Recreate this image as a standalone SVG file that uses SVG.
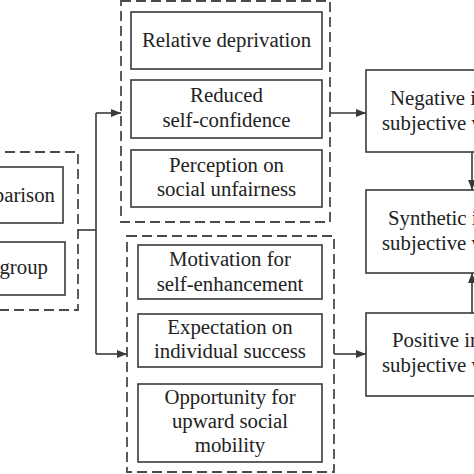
<svg xmlns="http://www.w3.org/2000/svg" width="474" height="474" viewBox="0 0 474 474">
<style>
.box{fill:#fff;stroke:#3a3a3a;stroke-width:1.6}
.dash{fill:none;stroke:#4a4a4a;stroke-width:1.8;stroke-dasharray:10 5}
.t{font-family:"Liberation Serif","Times New Roman",serif;font-size:20.8px;fill:#222;text-anchor:middle}
.ts{font-family:"Liberation Serif","Times New Roman",serif;font-size:20.8px;fill:#222;text-anchor:start}
.te{font-family:"Liberation Serif","Times New Roman",serif;font-size:20.8px;fill:#222;text-anchor:end}
.ln{fill:none;stroke:#3a3a3a;stroke-width:1.6}
</style>
<defs>
<marker id="ah" markerWidth="10" markerHeight="8" refX="10" refY="4" orient="auto" markerUnits="userSpaceOnUse">
<path d="M0,0 L10,4 L0,8 Z" fill="#3a3a3a"/>
</marker>
</defs>
<rect width="474" height="474" fill="#fff"/>

<g id="left-group">
<rect class="dash" x="-10" y="152" width="88" height="158"/>
<g id="social-comparison">
<rect class="box" x="-10" y="167" width="73" height="56"/>
<text class="te" x="55" y="202">parison</text>
</g>
<g id="reference-group">
<rect class="box" x="-10" y="242" width="75" height="53"/>
<text class="te" x="48" y="274">group</text>
</g>
</g>

<g id="negative-group">
<rect class="dash" x="121" y="1" width="209" height="221"/>
<g id="relative-deprivation">
<rect class="box" x="131" y="12" width="191" height="57"/>
<text class="t" x="226.5" y="47">Relative deprivation</text>
</g>
<g id="reduced-self-confidence">
<rect class="box" x="131" y="80" width="191" height="58"/>
<text class="t" x="226.5" y="102">Reduced</text>
<text class="t" x="226.5" y="127">self-confidence</text>
</g>
<g id="perception-unfairness">
<rect class="box" x="131" y="150" width="191" height="57"/>
<text class="t" x="226.5" y="172">Perception on</text>
<text class="t" x="226.5" y="196">social unfairness</text>
</g>
</g>

<g id="positive-group">
<rect class="dash" x="127" y="236" width="207" height="236"/>
<g id="motivation">
<rect class="box" x="138" y="245" width="184" height="54"/>
<text class="t" x="230" y="266">Motivation for</text>
<text class="t" x="230" y="291">self-enhancement</text>
</g>
<g id="expectation">
<rect class="box" x="138" y="314" width="184" height="53"/>
<text class="t" x="230" y="334">Expectation on</text>
<text class="t" x="230" y="358">individual success</text>
</g>
<g id="opportunity">
<rect class="box" x="138" y="384" width="184" height="78"/>
<text class="t" x="230" y="404">Opportunity for</text>
<text class="t" x="230" y="428">upward social</text>
<text class="t" x="230" y="452">mobility</text>
</g>
</g>

<g id="negative-impact">
<rect class="box" x="366" y="70" width="140" height="82"/>
<text class="ts" x="390" y="105">Negative i</text>
<text class="ts" x="382" y="130">subjective w</text>
</g>
<g id="synthetic-impact">
<rect class="box" x="366" y="190" width="140" height="83"/>
<text class="ts" x="388" y="225">Synthetic i</text>
<text class="ts" x="382" y="250">subjective w</text>
</g>
<g id="positive-impact">
<rect class="box" x="366" y="313" width="140" height="83"/>
<text class="ts" x="392" y="347">Positive in</text>
<text class="ts" x="382" y="372">subjective w</text>
</g>

<g id="connectors">
<path class="ln" d="M78,230 H96"/>
<path class="ln" d="M96,113 V354"/>
<path class="ln" d="M96,113 H121" marker-end="url(#ah)"/>
<path class="ln" d="M96,354 H127" marker-end="url(#ah)"/>
<path class="ln" d="M330,113 H366" marker-end="url(#ah)"/>
<path class="ln" d="M334,354 H366" marker-end="url(#ah)"/>
<path class="ln" d="M472,152 V190" marker-end="url(#ah)"/>
<path class="ln" d="M472,313 V273" marker-end="url(#ah)"/>
</g>
</svg>
